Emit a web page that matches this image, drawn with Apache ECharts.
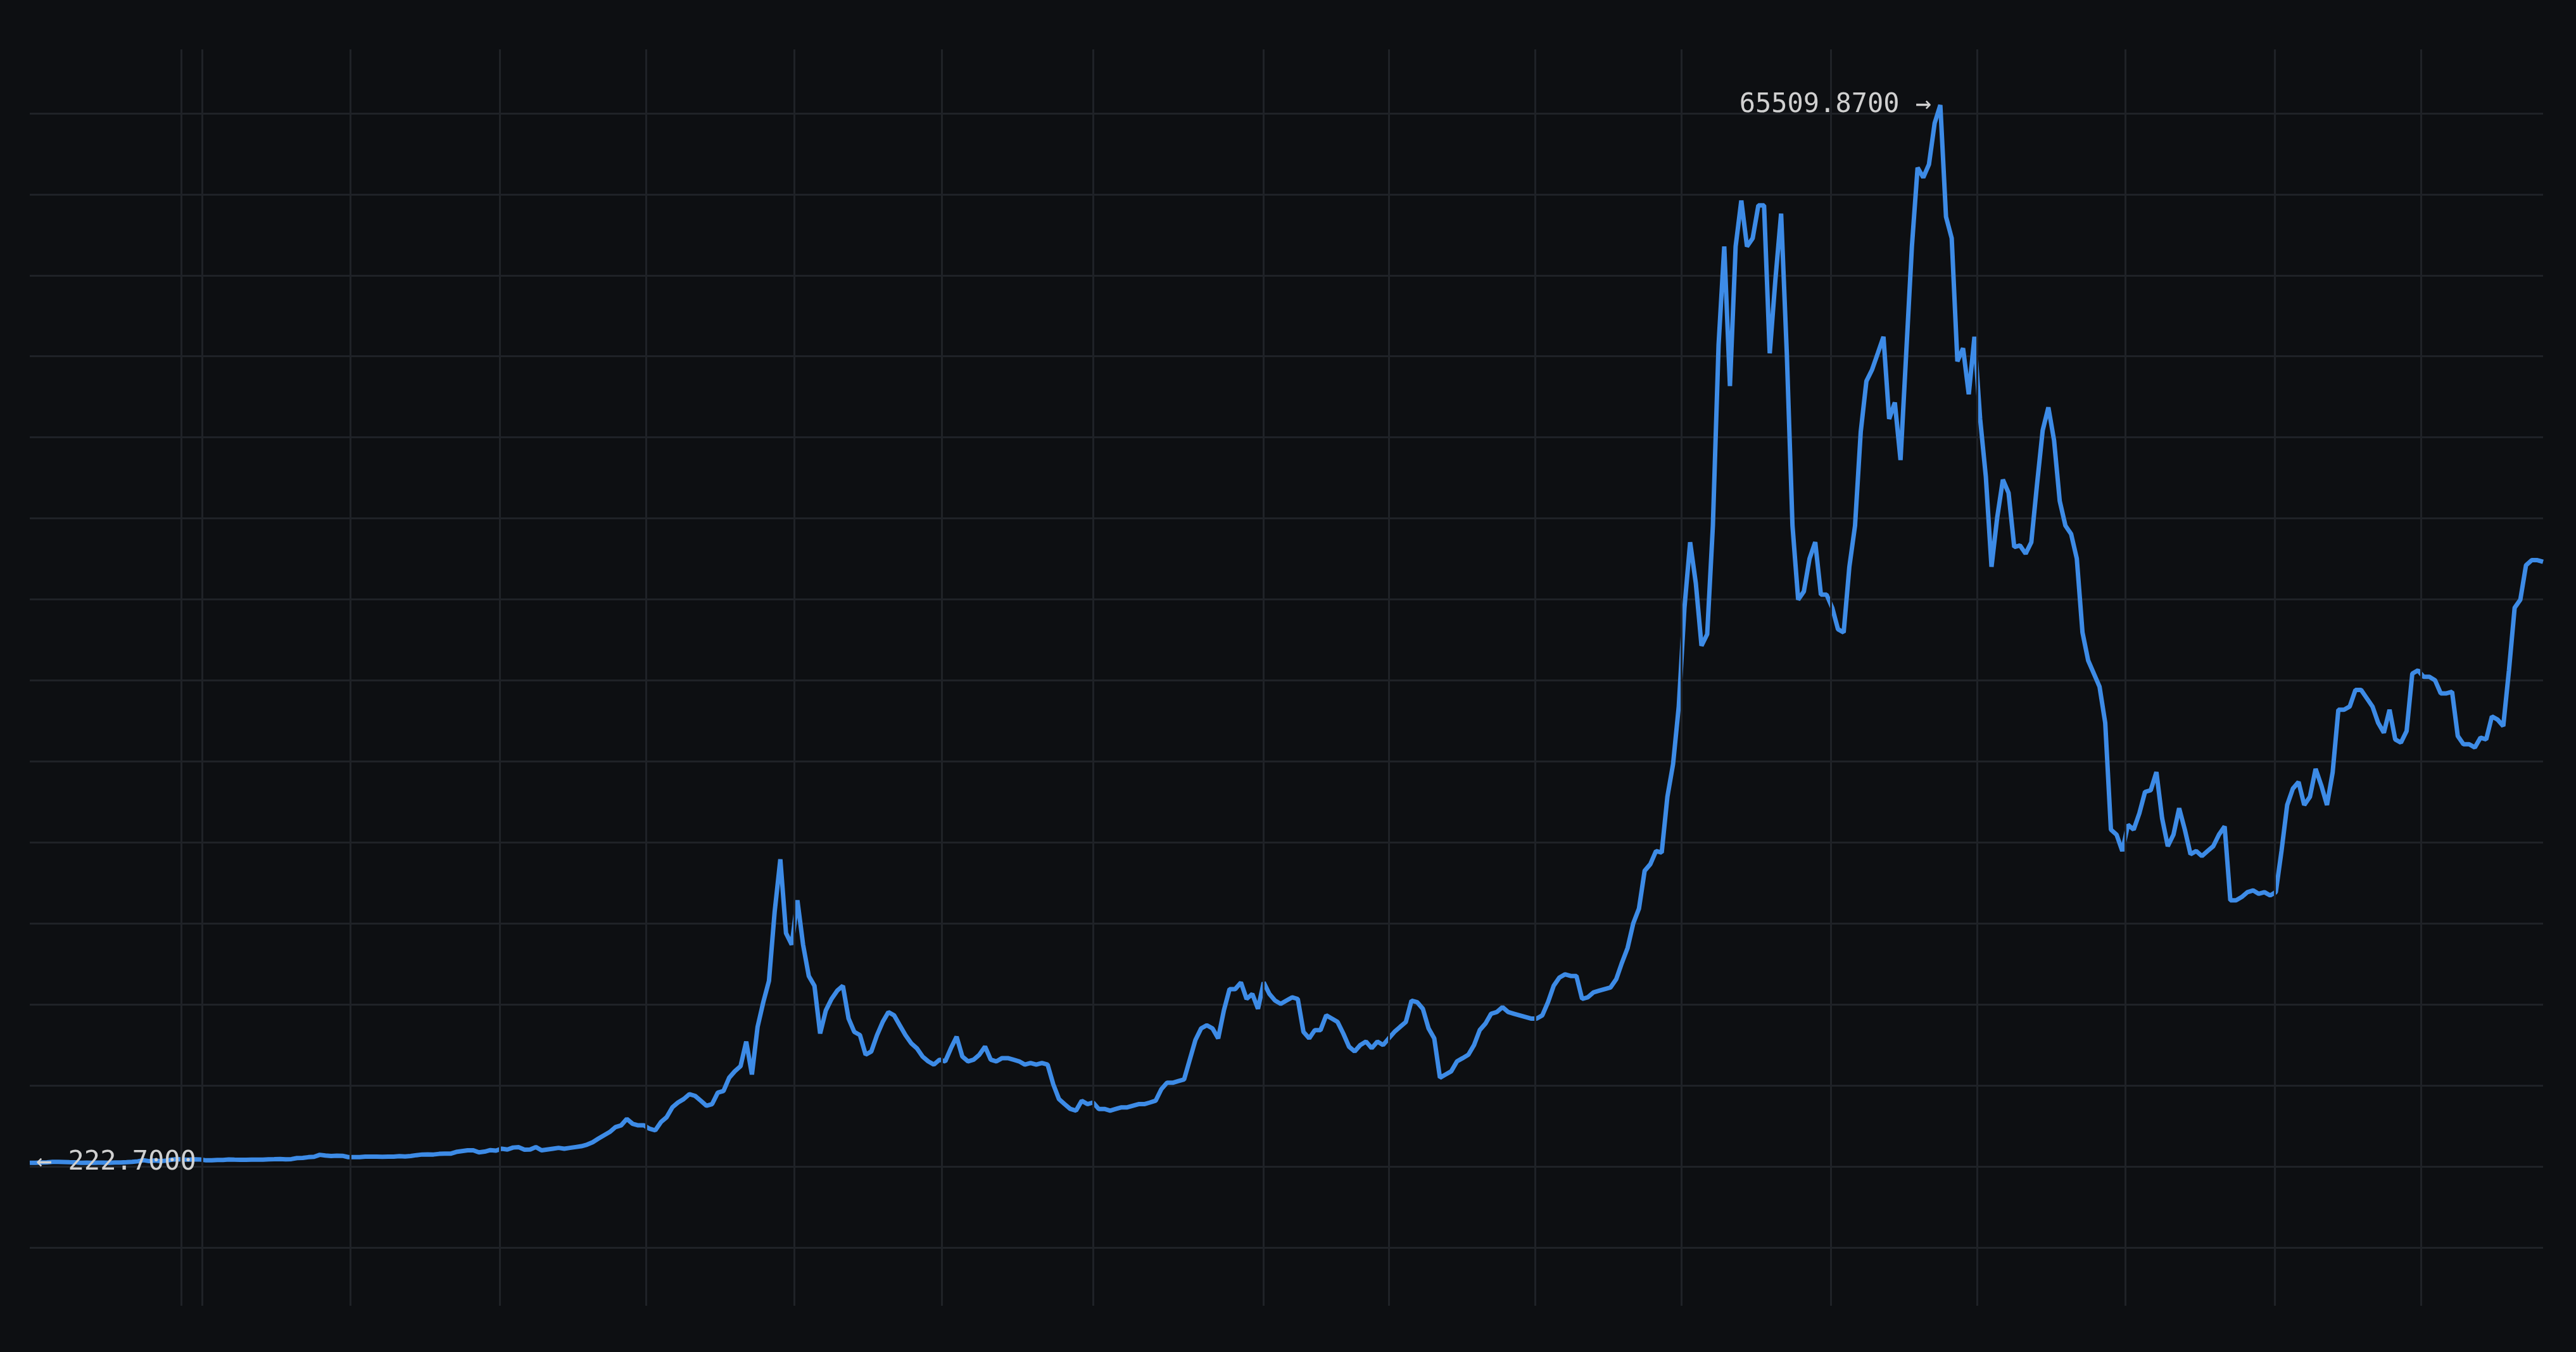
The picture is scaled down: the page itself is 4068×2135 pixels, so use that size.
<!DOCTYPE html>
<html>
<head>
<meta charset="utf-8">
<script src="https://cdn.jsdelivr.net/npm/echarts@6/dist/echarts.min.js"></script>
<style>
  html, body { margin: 0; padding: 0; background: #0d0f12; }
  #chart { width: 4068px; height: 2135px; }
</style>
</head>
<body>
<div id="chart"></div>
<script>
// weekly closes, index = week since start
const prices = [
  222.7, 230, 245, 260, 285, 290, 280, 265, 255, 230,
  235, 230, 235, 240, 230, 245, 250, 265, 285, 320,
  390, 330, 370, 330, 360, 420, 450, 430, 420, 440,
  430, 380, 380, 400, 400, 435, 420, 415, 415, 420,
  420, 425, 445, 450, 460, 445, 455, 520, 530, 575,
  600, 720, 680, 650, 665, 660, 580, 575, 575, 605,
  610, 610, 600, 605, 605, 640, 615, 650, 700, 740,
  750, 740, 780, 790, 790, 900, 950, 1000, 1000, 870,
  920, 1010, 980, 1100, 1050, 1170, 1190, 1040, 1050, 1200,
  1000, 1050, 1100, 1150, 1100, 1150, 1200, 1250, 1350, 1500,
  1720, 1930, 2130, 2430, 2540, 2940, 2640, 2540, 2540, 2330,
  2230, 2740, 3040, 3650, 3950, 4160, 4460, 4360, 4060, 3750,
  3850, 4560, 4660, 5480, 5880, 6190, 7710, 5680, 8620, 10140,
  11460, 15720, 18960, 14400, 13690, 16430, 13690, 11760, 11150, 8210,
  9630, 10340, 10850, 11150, 9130, 8310, 8110, 6900, 7100, 8110,
  8920, 9530, 9330, 8720, 8110, 7610, 7300, 6790, 6490, 6290,
  6590, 6490, 7300, 8010, 6790, 6490, 6590, 6900, 7400, 6590,
  6490, 6690, 6690, 6590, 6490, 6290, 6390, 6290, 6390, 6290,
  5070, 4160, 3850, 3550, 3450, 4060, 3850, 3950, 3550, 3550,
  3450, 3550, 3650, 3650, 3750, 3850, 3850, 3950, 4060, 4770,
  5170, 5170, 5270, 5370, 6590, 7810, 8520, 8720, 8520, 7910,
  9630, 10950, 10950, 11360, 10340, 10650, 9730, 11360, 10650, 10240,
  10040, 10240, 10440, 10340, 8310, 7910, 8420, 8420, 9330, 9130,
  8920, 8210, 7400, 7100, 7500, 7710, 7300, 7710, 7500, 7910,
  8310, 8620, 8920, 10240, 10140, 9730, 8520, 7910, 5480, 5680,
  5880, 6490, 6690, 6900, 7500, 8420, 8820, 9430, 9530, 9840,
  9530, 9430, 9330, 9230, 9130, 9130, 9330, 10140, 11150, 11660,
  11860, 11760, 11760, 10340, 10440, 10750, 10850, 10950, 11050, 11560,
  12570, 13490, 15010, 15920, 18250, 18660, 19470, 19370, 22820, 24840,
  28390, 34480, 38530, 36000, 32140, 32850, 39550, 50700, 56780, 48170,
  56780, 59620, 56780, 57290, 59320, 59320, 50190, 54760, 58810, 50190,
  39550, 34980, 35490, 37520, 38530, 35290, 35290, 34480, 33160, 32960,
  37010, 39550, 45330, 48470, 49180, 50190, 51210, 46140, 47150, 43600,
  50190, 56780, 61650, 61040, 61850, 64390, 65509.87, 58610, 57290, 49690,
  50500, 47660, 51210, 46140, 42590, 37010, 40050, 42390, 41570, 38230,
  38330, 37820, 38530, 42080, 45430, 46850, 44820, 41070, 39550, 39040,
  37520, 32960, 31230, 30420, 29610, 27380, 20790, 20480, 19470, 21090,
  20790, 21800, 23120, 23220, 24340, 21500, 19770, 20480, 22110, 20790,
  19270, 19470, 19160, 19470, 19770, 20480, 20990, 16430, 16430, 16630,
  16930, 17040, 16830, 16930, 16730, 16930, 19470, 22310, 23320, 23730,
  22310, 22820, 24540, 23520, 22310, 24340, 28190, 28190, 28390, 29410,
  29410, 28900, 28390, 27380, 26770, 28190, 26360, 26160, 26870, 30420,
  30620, 30220, 30220, 30010, 29200, 29200, 29300, 26570, 26060, 26060,
  25860, 26470, 26360, 27780, 27580, 27180, 30620, 34480, 34980, 37110,
  37420, 37420, 37320
];
// week positions of the vertical grid lines (time ticks)
const tickWeeks = [26.6, 30.3, 56.4, 82.7, 108.4, 134.4, 160.4, 187, 217, 239,
  264.7, 290.5, 316.8, 342.5, 368.5, 394.8, 420.5];

const minVal = Math.min(...prices);
const maxVal = Math.max(...prices);
const minIdx = prices.indexOf(minVal);
const maxIdx = prices.indexOf(maxVal);
const lastWeek = prices.length - 1;

const gridColor = "#1f2227";
const labelFont = { color: "#d0d0d0", fontFamily: "DejaVu Sans Mono", fontSize: 42 };

const chart = echarts.init(document.getElementById("chart"));
chart.setOption({
  backgroundColor: "#0d0f12",
  animation: false,
  grid: [
    { left: 47, right: 52, top: 51, bottom: 165 },
    { left: 47, right: 52, top: 78, bottom: 73 }
  ],
  xAxis: [
    { gridIndex: 0, type: "value", min: 0, max: lastWeek, show: false },
    { gridIndex: 1, type: "value", min: 0, max: lastWeek, show: false }
  ],
  yAxis: [
    {
      gridIndex: 0, type: "value", min: -5000, max: 70000, interval: 5000,
      axisLine: { show: false }, axisTick: { show: false }, axisLabel: { show: false },
      splitLine: { showMaxLine: false, lineStyle: { color: gridColor, width: 3 } }
    },
    { gridIndex: 1, type: "value", min: 0, max: 1, show: false }
  ],
  series: [
    {
      type: "line",
      xAxisIndex: 1, yAxisIndex: 1,
      data: [],
      markLine: {
        silent: true,
        symbol: ["none", "none"],
        label: { show: false },
        lineStyle: { color: gridColor, width: 3, type: "solid" },
        data: tickWeeks.map(w => ({ xAxis: w }))
      }
    },
    {
      type: "line",
      xAxisIndex: 0, yAxisIndex: 0,
      showSymbol: false,
      lineStyle: { color: "#3d8be6", width: 7 },
      data: prices.map((v, i) => [i, v]),
      markPoint: {
        symbol: "circle",
        symbolSize: 0,
        data: [
          {
            coord: [minIdx, minVal],
            label: { ...labelFont, position: "right", distance: 10, formatter: "← " + minVal.toFixed(4) }
          },
          {
            coord: [maxIdx, maxVal],
            label: { ...labelFont, position: "left", distance: 14, offset: [0, 0], formatter: maxVal.toFixed(4) + " →" }
          }
        ]
      }
    }
  ]
});
</script>
</body>
</html>
